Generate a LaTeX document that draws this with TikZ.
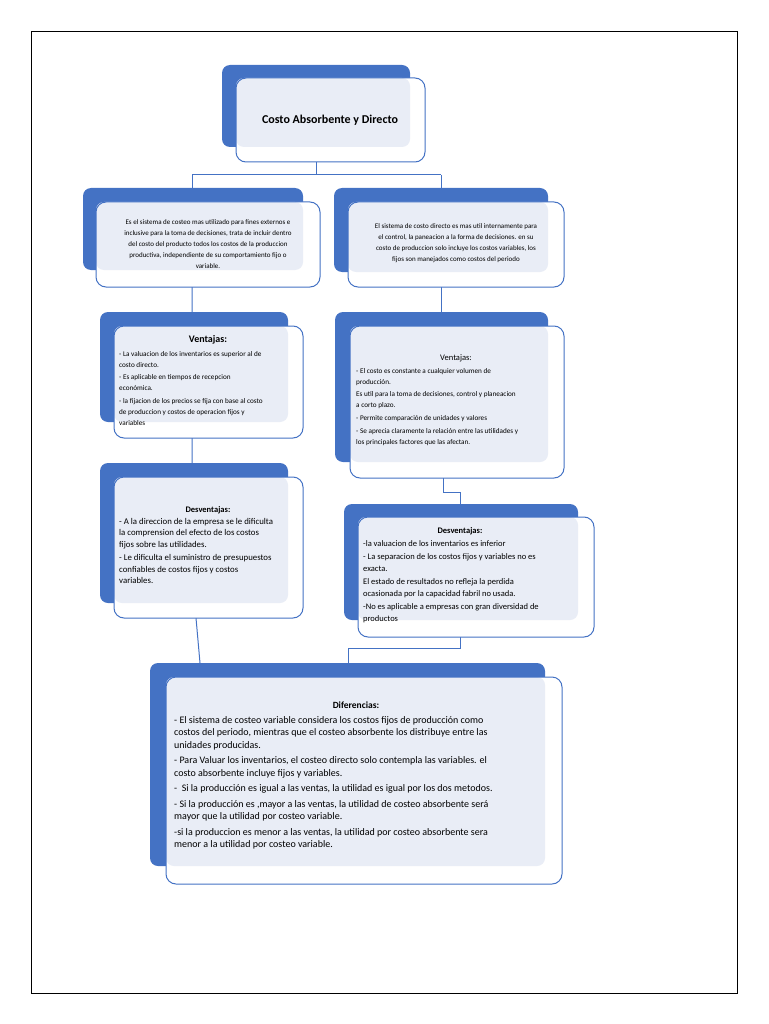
\documentclass[tikz,border=0pt]{standalone}
\usepackage{fontspec}
\setmainfont{Carlito}
\definecolor{dk}{HTML}{4472C4}
\definecolor{lt}{HTML}{E9EDF6}
\begin{document}
\begin{tikzpicture}[x=1pt,y=-1pt,
 backbox/.style={fill=dk,rounded corners=8pt},
 lightbox/.style={fill=lt,rounded corners=8pt},
 frontbox/.style={draw=dk,line width=1pt,rounded corners=10pt},
 conn/.style={draw=dk,line width=1pt},
 txt/.style={align=left,inner sep=0pt,anchor=north west}]
\useasboundingbox (0,0) rectangle (768,1024);
\draw[line width=0.8pt] (31,31) rectangle (737,993);
% helper macro-less: draw each box
\newcommand{\cbox}[8]{%
 \fill[backbox] (#1,#2) rectangle (#5,#6);
 \fill[white,rounded corners=10pt] (#3,#4) rectangle (#7,#8);
 \fill[lightbox] (#3,#4) rectangle (#5,#6);
 \draw[frontbox] (#3,#4) rectangle (#7,#8);}
% connectors
\coordinate (t1) at (316,162); \coordinate (t2) at (316,175);
\draw[conn] (t1)--(t2) (192,175)--(441,175) (192,175)--(192,188) (441,175)--(441,188);
\draw[conn] (192,287)--(192,312) (192,438)--(192,463) (196,618)--(200,663);
\draw[conn] (441,287)--(441,312) (443,478)--(443,492)--(460,492)--(460,504);
\draw[conn] (460,637)--(460,648)--(348,648)--(348,663);
% boxes
\cbox{222}{65}{236}{78}{410}{147}{425}{162}
\cbox{83}{188}{96}{202}{303}{270}{320}{287}
\cbox{334}{188}{348}{202}{548}{272}{564}{287}
\cbox{100}{312}{114}{326}{288}{422}{303}{438}
\cbox{335}{312}{350}{326}{548}{462}{564}{478}
\cbox{100}{463}{114}{477}{288}{603}{303}{618}
\cbox{344}{504}{358}{517}{578}{620}{594}{637}
\cbox{150}{663}{166}{677}{545}{866}{562}{884}
% texts
\node[font=\bfseries\fontsize{12}{14}\selectfont] (title) at (330,120) {Costo Absorbente y Directo};
\node[align=center,inner sep=0pt,font=\fontsize{7}{11}\selectfont] (lt) at (208,244) {Es el sistema de costeo mas utilizado para fines externos e\\inclusive para la toma de decisiones, trata de incluir dentro\\del costo del producto todos los costos de la produccion\\productiva, independiente de su comportamiento fijo o\\variable.};
\node[align=center,inner sep=0pt,font=\fontsize{7}{11}\selectfont] (rt) at (456,243) {El sistema de costo directo es mas util internamente para\\el control, la paneacion a la forma de decisiones. en su\\costo de produccion solo incluye los costos variables, los\\fijos son manejados como costos del periodo};
\node[font=\bfseries\fontsize{10}{12}\selectfont] (lvh) at (208,340) {Ventajas:};
\node[txt,font=\fontsize{7.2}{10.8}\selectfont] (lv) at (119,351) {- La valuacion de los inventarios es superior al de\\costo directo.\\[2pt]- Es aplicable en tiempos de recepcion\\económica.\\[2pt]- la fijacion de los precios se fija con base al costo\\de produccion y costos de operacion fijos y\\variables};
\node[font=\fontsize{8.5}{10}\selectfont] (rvh) at (456,358) {Ventajas:};
\node[txt,font=\fontsize{7.2}{10.8}\selectfont] (rv) at (356,368) {- El costo es constante a cualquier volumen de\\producción.\\[2pt]Es util para la toma de decisiones, control y planeacion\\a corto plazo.\\[2pt]- Permite comparación de unidades y valores\\[2pt]- Se aprecia claramente la relación entre las utilidades y\\los principales factores que las afectan.};
\node[font=\bfseries\fontsize{8.5}{10}\selectfont] (ldh) at (208,510) {Desventajas:};
\node[txt,font=\fontsize{8.8}{11.5}\selectfont] (ld) at (119,518) {- A la direccion de la empresa se le dificulta\\la comprension del efecto de los costos\\fijos sobre las utilidades.\\[2pt]- Le dificulta el suministro de presupuestos\\confiables de costos fijos y costos\\variables.};
\node[font=\bfseries\fontsize{8.5}{10}\selectfont] (rdh) at (460,531) {Desventajas:};
\node[txt,font=\fontsize{8.5}{11.5}\selectfont] (rd) at (363,540) {-la valuacion de los inventarios es inferior\\[2pt]- La separacion de los costos fijos y variables no es\\exacta.\\[2pt]El estado de resultados no refleja la perdida\\ocasionada por la capacidad fabril no usada.\\[2pt]-No es aplicable a empresas con gran diversidad de\\productos};
\node[font=\bfseries\fontsize{9.5}{11}\selectfont] (dh) at (356,705) {Diferencias:};
\node[txt,font=\fontsize{10}{12.5}\selectfont] (df) at (174,716) {- El sistema de costeo variable considera los costos fijos de producción como\\costos del periodo, mientras que el costeo absorbente los distribuye entre las\\unidades producidas.\\[3pt]- Para Valuar los inventarios, el costeo directo solo contempla las variables. el\\costo absorbente incluye fijos y variables.\\[3pt]-\ \ Si la producción es igual a las ventas, la utilidad es igual por los dos metodos.\\[3pt]- Si la producción es ,mayor a las ventas, la utilidad de costeo absorbente será\\mayor que la utilidad por costeo variable.\\[3pt]-si la produccion es menor a las ventas, la utilidad por costeo absorbente sera\\menor a la utilidad por costeo variable.};
\end{tikzpicture}
\end{document}
